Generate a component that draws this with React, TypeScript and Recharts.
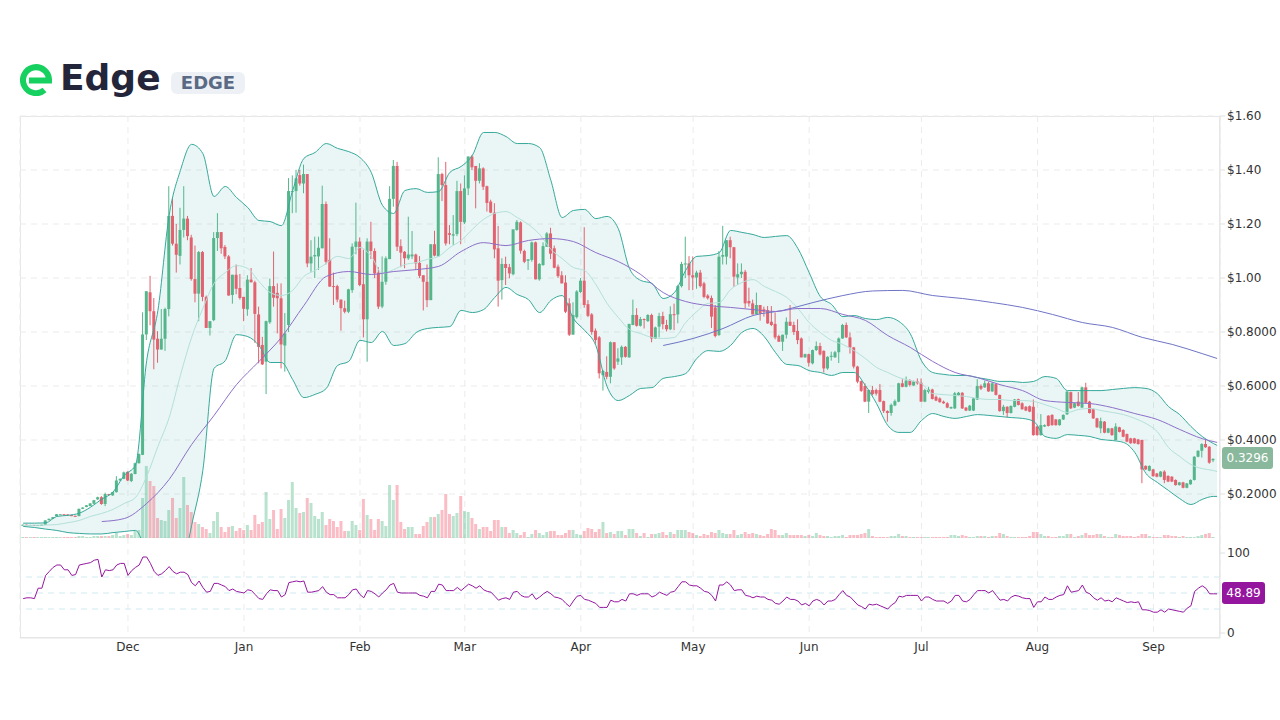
import {
  ComposedChart,
  Bar,
  Line,
  Area,
  XAxis,
  YAxis,
  CartesianGrid,
  ReferenceLine,
} from 'recharts';

// prices are in thousandths of a dollar, one entry per day (day 0 is early Nov)
const opens = [
  86, 86, 85, 85, 84, 85, 86, 103, 108, 118,
  125, 125, 124, 122, 119, 118, 145, 152, 155, 164,
  180, 188, 163, 200, 195, 207, 250, 256, 282, 248,
  274, 314, 345, 791, 947, 877, 775, 735, 775, 885,
  1230, 1127, 1082, 1178, 1220, 1150, 996, 942, 1096, 930,
  815, 844, 1148, 1170, 1115, 1080, 937, 1012, 963, 930,
  884, 994, 984, 865, 752, 690, 836, 970, 945, 925,
  750, 826, 1318, 1322, 1381, 1350, 1385, 1054, 1080, 1080,
  1110, 1274, 1067, 970, 970, 920, 888, 875, 955, 1115,
  1135, 977, 847, 1135, 1100, 1020, 894, 986, 1070, 1293,
  1415, 1118, 1097, 1073, 1080, 1087, 1056, 1010, 986, 918,
  1125, 1080, 1385, 1344, 1166, 1157, 1163, 1322, 1206, 1332,
  1450, 1415, 1360, 1406, 1340, 1283, 1242, 1110, 992, 1052,
  1040, 1014, 1178, 1206, 1100, 1064, 1067, 1132, 995, 1048,
  1116, 1165, 1110, 1042, 1010, 983, 906, 790, 855, 948,
  990, 903, 865, 805, 780, 640, 652, 634, 762, 690,
  706, 745, 706, 826, 863, 823, 848, 840, 863, 776,
  820, 859, 826, 810, 866, 865, 970, 1050, 1054, 1010,
  1002, 1020, 980, 935, 926, 891, 789, 1079, 1079, 1140,
  1114, 1002, 1014, 1023, 915, 906, 866, 900, 884, 881,
  838, 830, 785, 764, 790, 838, 826, 804, 776, 706,
  718, 684, 733, 748, 730, 665, 708, 706, 725, 776,
  826, 780, 743, 672, 618, 600, 542, 585, 585, 585,
  544, 507, 500, 528, 542, 610, 597, 620, 602, 617,
  612, 542, 578, 587, 560, 554, 542, 536, 517, 517,
  566, 575, 520, 509, 509, 550, 600, 595, 610, 580,
  607, 567, 507, 523, 500, 523, 551, 536, 523, 525,
  523, 450, 418, 450, 490, 493, 476, 455, 476, 495,
  577, 520, 542, 520, 595, 542, 514, 480, 443, 468,
  427, 443, 400, 447, 437, 422, 406, 406, 402, 400,
  304, 286, 291, 276, 264, 283, 267, 264, 252, 233,
  243, 223, 236, 252, 338, 360, 385, 375, 325,
];
const highs = [
  87, 87, 86, 86, 85, 86, 103, 109, 115, 126,
  126, 126, 125, 123, 120, 146, 151, 159, 166, 178,
  190, 192, 205, 200, 208, 266, 258, 283, 284, 277,
  316, 350, 873, 951, 1008, 926, 803, 885, 890, 1340,
  1295, 1200, 1260, 1340, 1230, 1160, 1120, 1100, 1100, 935,
  840, 1170, 1240, 1170, 1122, 1085, 1012, 1050, 1015, 930,
  1010, 1037, 990, 894, 782, 842, 998, 1098, 980, 980,
  870, 1370, 1380, 1400, 1400, 1420, 1385, 1140, 1153, 1153,
  1342, 1283, 1147, 1020, 975, 920, 916, 960, 1128, 1279,
  1150, 1105, 1147, 1208, 1110, 1040, 1080, 1080, 1340, 1437,
  1430, 1143, 1100, 1227, 1174, 1090, 1081, 1010, 1050, 1125,
  1175, 1447, 1390, 1430, 1196, 1233, 1360, 1350, 1380, 1450,
  1456, 1415, 1425, 1410, 1342, 1290, 1277, 1193, 1073, 1079,
  1052, 1180, 1215, 1210, 1105, 1070, 1135, 1135, 1055, 1132,
  1170, 1186, 1120, 1050, 1025, 1010, 925, 910, 955, 1000,
  1188, 918, 870, 813, 785, 660, 710, 765, 763, 740,
  750, 748, 830, 920, 888, 856, 850, 866, 868, 820,
  871, 875, 845, 895, 905, 975, 1060, 1153, 1081, 1080,
  1027, 1030, 986, 940, 935, 900, 1100, 1193, 1140, 1153,
  1115, 1054, 1054, 1030, 964, 920, 946, 900, 894, 896,
  896, 872, 790, 790, 854, 900, 838, 847, 780, 720,
  720, 735, 765, 760, 732, 710, 727, 730, 780, 830,
  835, 798, 745, 675, 620, 610, 587, 600, 590, 607,
  546, 510, 535, 550, 612, 625, 635, 625, 620, 628,
  628, 590, 597, 590, 565, 558, 546, 540, 524, 578,
  578, 577, 522, 530, 556, 625, 606, 620, 616, 614,
  609, 568, 530, 525, 528, 552, 553, 540, 526, 528,
  550, 452, 496, 458, 492, 495, 478, 478, 495, 582,
  579, 538, 578, 598, 612, 545, 516, 482, 483, 470,
  445, 445, 462, 449, 440, 424, 408, 408, 404, 401,
  306, 306, 293, 278, 285, 288, 269, 266, 254, 245,
  245, 241, 254, 340, 362, 388, 400, 377, 332,
];
const lows = [
  85, 85, 84, 83, 83, 85, 86, 102, 108, 118,
  124, 124, 120, 118, 117, 118, 144, 151, 155, 163,
  178, 160, 155, 196, 193, 205, 249, 255, 248, 244,
  273, 313, 344, 770, 825, 662, 686, 735, 730, 858,
  1120, 1020, 1050, 1150, 1140, 990, 910, 840, 914, 815,
  787, 840, 1100, 1090, 1070, 935, 905, 940, 920, 840,
  860, 984, 760, 684, 678, 570, 830, 894, 795, 665,
  653, 800, 1240, 1242, 1342, 1314, 1040, 1023, 1000, 1030,
  1110, 1050, 968, 900, 910, 805, 869, 870, 945, 1088,
  970, 780, 690, 1070, 1000, 885, 888, 975, 1070, 1264,
  1100, 1040, 1036, 1067, 1070, 1030, 1000, 880, 892, 918,
  1080, 1080, 1285, 1120, 1125, 1122, 1155, 1125, 1200, 1307,
  1400, 1258, 1350, 1326, 1246, 1240, 1073, 894, 920, 974,
  999, 1010, 1175, 1090, 1055, 1030, 1060, 995, 990, 1045,
  1115, 1070, 1036, 1000, 980, 870, 785, 790, 850, 945,
  890, 855, 790, 757, 628, 583, 625, 610, 660, 678,
  678, 705, 705, 825, 820, 820, 813, 838, 762, 774,
  780, 810, 802, 807, 807, 832, 965, 1000, 955, 955,
  960, 965, 925, 920, 815, 780, 785, 1050, 1050, 1073,
  968, 974, 1000, 888, 894, 865, 865, 842, 857, 830,
  822, 773, 764, 730, 776, 823, 789, 755, 706, 705,
  672, 680, 730, 713, 650, 660, 694, 705, 685, 775,
  778, 720, 665, 610, 578, 540, 500, 565, 565, 540,
  500, 468, 490, 525, 540, 595, 595, 598, 600, 605,
  542, 540, 572, 550, 544, 538, 534, 518, 515, 515,
  563, 515, 507, 507, 507, 548, 585, 593, 578, 578,
  565, 505, 493, 484, 498, 521, 528, 512, 507, 503,
  416, 416, 416, 448, 450, 453, 453, 453, 474, 493,
  515, 518, 524, 518, 536, 498, 478, 445, 425, 425,
  425, 416, 398, 428, 410, 392, 386, 386, 383, 240,
  289, 284, 264, 262, 262, 240, 244, 244, 231, 231,
  221, 221, 234, 250, 336, 335, 371, 312, 318,
];
const closes = [
  86, 85, 85, 84, 85, 86, 102, 108, 114, 125,
  125, 124, 121, 118, 118, 145, 150, 158, 165, 177,
  188, 163, 200, 197, 207, 250, 256, 280, 250, 275,
  314, 348, 791, 951, 877, 772, 735, 775, 885, 1230,
  1127, 1086, 1178, 1220, 1155, 996, 942, 1096, 930, 815,
  840, 1148, 1170, 1110, 1080, 935, 1012, 960, 926, 886,
  994, 984, 867, 745, 680, 840, 970, 927, 925, 754,
  795, 1322, 1322, 1369, 1350, 1385, 1054, 1079, 1085, 1112,
  1274, 1060, 968, 968, 920, 888, 875, 958, 1116, 1135,
  974, 847, 1135, 1100, 1017, 894, 986, 1073, 1293, 1415,
  1116, 1094, 1073, 1087, 1087, 1054, 1008, 986, 918, 1125,
  1083, 1385, 1344, 1128, 1160, 1162, 1322, 1208, 1332, 1450,
  1410, 1360, 1406, 1338, 1278, 1242, 1106, 990, 1052, 1037,
  1017, 1180, 1208, 1101, 1060, 1069, 1132, 995, 1052, 1118,
  1165, 1090, 1038, 1007, 980, 875, 790, 863, 950, 990,
  900, 860, 800, 770, 647, 656, 634, 762, 665, 702,
  745, 708, 830, 863, 823, 848, 845, 863, 776, 817,
  859, 829, 810, 866, 863, 970, 1052, 1054, 1010, 1002,
  1020, 970, 930, 925, 857, 785, 1079, 1085, 1140, 1114,
  1005, 1014, 1023, 906, 906, 865, 900, 868, 875, 832,
  826, 780, 764, 790, 838, 823, 800, 770, 706, 718,
  686, 733, 748, 717, 665, 708, 712, 725, 776, 826,
  780, 743, 672, 616, 582, 542, 585, 570, 572, 542,
  507, 500, 530, 544, 610, 597, 620, 604, 617, 610,
  542, 585, 587, 552, 546, 540, 536, 520, 522, 573,
  575, 517, 509, 527, 554, 600, 590, 610, 580, 610,
  567, 507, 523, 500, 526, 550, 530, 514, 509, 505,
  418, 418, 455, 455, 452, 455, 455, 476, 493, 579,
  517, 536, 526, 595, 538, 500, 480, 447, 470, 427,
  443, 418, 450, 430, 412, 394, 388, 388, 385, 291,
  291, 304, 266, 264, 283, 252, 246, 246, 233, 243,
  223, 239, 252, 338, 360, 385, 373, 316, 330,
];
// millions of tokens
const volumes = [
  1, 1, 1, 1, 1, 1, 1, 1, 1, 1,
  1, 1, 1, 1, 1, 2, 2, 1, 1, 2,
  2, 2, 2, 2, 3, 5, 2, 3, 4, 3,
  7, 8, 40, 72, 57, 52, 20, 18, 17, 28,
  40, 20, 30, 61, 33, 26, 16, 14, 11, 9,
  5, 17, 26, 11, 6, 11, 12, 7, 10, 8,
  13, 8, 23, 14, 16, 46, 19, 28, 9, 29,
  20, 38, 56, 30, 25, 26, 40, 35, 22, 19,
  26, 13, 19, 17, 11, 17, 7, 7, 17, 13,
  8, 39, 23, 19, 8, 19, 17, 12, 53, 38,
  53, 16, 9, 11, 11, 4, 4, 12, 16, 21,
  21, 24, 28, 44, 24, 22, 25, 42, 27, 26,
  20, 14, 9, 11, 11, 7, 18, 18, 11, 11,
  5, 8, 5, 3, 6, 1, 4, 8, 5, 3,
  6, 7, 7, 3, 3, 5, 8, 8, 4, 3,
  7, 10, 9, 6, 9, 16, 5, 6, 4, 7,
  7, 3, 9, 9, 5, 2, 5, 1, 4, 4,
  5, 6, 3, 6, 4, 8, 8, 8, 6, 5,
  3, 2, 4, 3, 6, 5, 8, 5, 4, 4,
  8, 3, 4, 6, 4, 5, 4, 3, 2, 4,
  9, 8, 3, 3, 5, 3, 3, 3, 3, 2,
  3, 2, 5, 3, 2, 2, 1, 2, 2, 3,
  1, 3, 3, 3, 4, 5, 9, 2, 1, 1,
  1, 1, 2, 2, 4, 2, 2, 1, 1, 1,
  1, 1, 1, 1, 1, 1, 1, 1, 3, 3,
  2, 3, 2, 1, 1, 2, 2, 2, 1, 2,
  2, 5, 4, 2, 1, 1, 1, 1, 1, 2,
  6, 6, 4, 2, 2, 1, 1, 2, 2, 4,
  4, 1, 2, 3, 5, 3, 3, 4, 4, 2,
  1, 1, 4, 3, 2, 2, 2, 1, 2, 4,
  4, 2, 1, 1, 1, 3, 3, 2, 2, 1,
  2, 1, 1, 1, 2, 3, 4, 5, 1,
];
const rsiValues = [
  43, 44, 44, 43, 56, 56, 72, 77, 82, 85,
  85, 79, 79, 72, 73, 85, 86, 87, 88, 91,
  92, 70, 79, 78, 79, 85, 87, 87, 72, 78,
  82, 85, 95, 95, 87, 77, 72, 74, 78, 83,
  77, 74, 76, 76, 73, 63, 59, 65, 57, 51,
  52, 62, 62, 60, 58, 53, 55, 52, 51, 50,
  54, 53, 48, 43, 42, 49, 54, 53, 53, 45,
  48, 63, 64, 65, 64, 65, 51, 51, 52, 53,
  58, 51, 48, 48, 44, 44, 44, 48, 54, 55,
  48, 44, 53, 52, 49, 45, 50, 54, 60, 62,
  51, 50, 50, 50, 50, 50, 47, 46, 44, 52,
  52, 61, 60, 53, 53, 53, 57, 53, 57, 61,
  59, 56, 59, 54, 52, 51, 46, 41, 43, 44,
  42, 51, 52, 47, 45, 45, 49, 42, 45, 49,
  52, 49, 45, 44, 42, 37, 33, 40, 46, 47,
  42, 41, 39, 37, 32, 32, 32, 41, 39, 39,
  42, 40, 49, 49, 47, 49, 49, 49, 45, 47,
  51, 49, 47, 51, 52, 58, 64, 64, 60, 59,
  59, 56, 52, 51, 47, 40, 60, 60, 64, 60,
  53, 54, 54, 47, 46, 44, 46, 45, 45, 42,
  41, 37, 36, 40, 45, 42, 42, 40, 35, 37,
  34, 40, 42, 40, 35, 40, 40, 42, 48, 53,
  47, 45, 40, 35, 33, 30, 36, 35, 36, 34,
  32, 30, 35, 38, 46, 45, 47, 47, 47, 47,
  40, 45, 45, 42, 40, 40, 40, 37, 40, 47,
  47, 40, 39, 42, 48, 53, 53, 53, 50, 53,
  47, 41, 42, 40, 45, 47, 46, 44, 43, 43,
  32, 39, 39, 45, 42, 42, 45, 47, 48, 59,
  51, 52, 53, 60, 51, 49, 44, 41, 44, 40,
  41, 39, 44, 42, 40, 38, 39, 38, 39, 29,
  29, 28, 26, 26, 29, 26, 30, 29, 28, 27,
  26, 31, 34, 52, 56, 59, 56, 49, 49, 48.89,
];

const bandDays = [
  0, 3, 6, 9, 12, 15, 18, 21, 24, 27, 30, 33, 36, 39, 42, 45, 48, 51, 54, 57,
  60, 63, 66, 69, 72, 75, 78, 81, 84, 87, 90, 93, 96, 99, 102, 105, 108, 111, 114, 117,
  120, 123, 126, 129, 132, 135, 138, 141, 144, 147, 150, 153, 156, 159, 162, 165, 168, 171, 174, 177,
  180, 183, 186, 189, 192, 195, 198, 201, 204, 207, 210, 213, 216, 219, 222, 225, 228, 231, 234, 237,
  240, 243, 246, 249, 252, 255, 258, 261, 264, 267, 270, 273, 276, 279, 282, 285, 288, 291, 294, 297,
  300, 303, 306, 309, 312, 315, 318, 319,
];
const bandUpper = [
  92, 92, 93, 117, 121, 129, 151, 181, 207, 269, 306, 694, 880, 1232, 1398, 1495, 1461, 1302, 1339, 1298,
  1261, 1213, 1209, 1194, 1324, 1443, 1465, 1498, 1480, 1468, 1446, 1391, 1269, 1239, 1324, 1331, 1317, 1320, 1391, 1413,
  1454, 1539, 1539, 1524, 1498, 1498, 1483, 1361, 1224, 1250, 1254, 1220, 1228, 1183, 1035, 991, 980, 924, 946, 1028,
  1080, 1083, 1094, 1176, 1169, 1161, 1150, 1154, 1157, 1109, 1020, 931, 902, 857, 861, 850, 846, 854, 839, 794,
  694, 650, 643, 639, 639, 631, 624, 617, 617, 613, 617, 635, 628, 583, 583, 583, 583, 587, 591, 594,
  591, 572, 524, 494, 450, 413, 387, 380,
];
const bandLower = [
  80, 76, 70, 65, 57, 54, 52, 52, 57, 61, 65, -30, -200, -300, -120, 83, 287, 665, 694, 790,
  783, 750, 687, 687, 624, 557, 569, 591, 676, 691, 769, 761, 802, 750, 757, 798, 813, 817, 820, 880,
  872, 883, 928, 965, 939, 920, 872, 917, 935, 850, 806, 750, 598, 546, 565, 591, 594, 628, 635, 646,
  702, 731, 728, 750, 798, 813, 783, 724, 680, 676, 657, 650, 639, 650, 650, 602, 535, 454, 428, 428,
  472, 498, 487, 480, 487, 494, 491, 487, 483, 480, 469, 413, 406, 420, 417, 413, 402, 398, 391, 354,
  276, 243, 213, 183, 161, 180, 191, 191,
];
const bandMid = [
  83, 84, 85, 87, 94, 102, 117, 128, 143, 165, 187, 265, 376, 483, 639, 780, 887, 980, 1020, 1046,
  1035, 987, 946, 935, 954, 1006, 1028, 1054, 1080, 1072, 1113, 1080, 1017, 1031, 1050, 1057, 1069, 1080, 1113, 1139,
  1180, 1217, 1239, 1246, 1224, 1198, 1161, 1106, 1072, 1039, 1028, 976, 906, 854, 809, 794, 780, 776, 780, 835,
  876, 906, 909, 957, 983, 994, 969, 950, 928, 887, 835, 798, 769, 754, 731, 702, 669, 650, 631, 620,
  609, 572, 568, 565, 561, 554, 550, 550, 546, 546, 543, 531, 517, 502, 513, 517, 509, 502, 494, 480,
  461, 431, 372, 339, 309, 294, 287, 283,
];
const shortMaDays = [
  21, 27, 33, 39, 45, 51, 57, 63, 69, 75, 81, 87, 93, 99, 105, 111, 117, 123, 129, 135,
  141, 147, 153, 159, 165, 171, 177, 183, 189, 195, 201, 207, 213, 219, 225, 231, 237, 243, 249, 255,
  261, 267, 273, 279, 285, 291, 297, 303, 309, 315, 319,
];
const shortMa = [
  98, 109, 165, 254, 383, 491, 605, 691, 780, 898, 1006, 1024, 1013, 1024, 1031, 1043, 1098, 1131, 1120, 1139,
  1146, 1135, 1094, 1061, 1013, 946, 913, 898, 891, 883, 876, 887, 887, 865, 843, 787, 743, 691, 650, 631,
  605, 583, 546, 539, 535, 520, 498, 476, 439, 405, 391,
];
const longMaDays = [171, 179, 187, 195, 203, 211, 219, 227, 235, 243, 251, 259, 267, 275, 283, 291, 299, 307, 315, 319];
const longMa = [750, 776, 813, 861, 880, 909, 935, 952, 954, 935, 924, 909, 891, 865, 835, 817, 780, 754, 720, 702];

const monthDays = [28, 59, 90, 118, 149, 179, 210, 240, 271, 302];
const monthLabels = ['Dec', 'Jan', 'Feb', 'Mar', 'Apr', 'May', 'Jun', 'Jul', 'Aug', 'Sep'];
const priceTicks = [0.2, 0.4, 0.6, 0.8, 1, 1.2, 1.4, 1.6];
const rsiTicks = [0, 100];
const rsiLevels = [30, 50, 70];

const lookup = (days: number[], values: number[], day: number) => {
  const k = days.indexOf(day);
  return k < 0 ? null : values[k] / 1000;
};

const rows = rsiValues.map((rsi, day) => {
  const hasCandle = day < closes.length;
  const hasBand = bandDays.includes(day);
  return {
    day,
    rsi,
    open: hasCandle ? opens[day] / 1000 : null,
    close: hasCandle ? closes[day] / 1000 : null,
    high: hasCandle ? highs[day] / 1000 : null,
    low: hasCandle ? lows[day] / 1000 : null,
    range: hasCandle ? [lows[day] / 1000, highs[day] / 1000] : null,
    volume: hasCandle ? volumes[day] : null,
    band: hasBand ? [lookup(bandDays, bandLower, day), lookup(bandDays, bandUpper, day)] : [null, null],
    upper: lookup(bandDays, bandUpper, day),
    lower: lookup(bandDays, bandLower, day),
    mid: lookup(bandDays, bandMid, day),
    maShort: lookup(shortMaDays, shortMa, day),
    maLong: lookup(longMaDays, longMa, day),
  };
});

const FONT = '"DejaVu Sans", sans-serif';
const GREEN = '#55b68c';
const RED = '#e2626f';
const GRID = '#ebebeb';
const TICK = { fill: '#333', fontSize: 12, fontFamily: FONT };

function Candle(props: any) {
  const { x, y, width, height, payload } = props;
  if (payload.open == null) return null;
  const up = payload.close >= payload.open;
  const perUnit = height / (payload.high - payload.low || 1);
  const top = y + (payload.high - Math.max(payload.open, payload.close)) * perUnit;
  const bodyHeight = Math.max(Math.abs(payload.close - payload.open) * perUnit, 1);
  const color = up ? GREEN : RED;
  return (
    <g>
      <line x1={x + width / 2} x2={x + width / 2} y1={y} y2={y + height} stroke={color} strokeWidth={1} />
      <rect x={x} y={top} width={width} height={bodyHeight} fill={color} />
    </g>
  );
}

function VolumeBar(props: any) {
  const { x, y, width, height, payload } = props;
  if (payload.open == null) return null;
  const up = payload.close >= payload.open;
  return (
    <rect
      x={x}
      y={y}
      width={width}
      height={height}
      fill={up ? 'rgba(72,178,130,0.38)' : 'rgba(244,90,110,0.4)'}
    />
  );
}

const priceLabel = (v: number) => (v >= 1 ? `$${v.toFixed(2)}` : `$${v.toFixed(4)}`);
const monthLabel = (d: number) => monthLabels[monthDays.indexOf(d)];

export default function App() {
  return (
    <div style={{ position: 'absolute', left: 0, top: 0, width: 1280, height: 720, background: '#fff', fontFamily: FONT }}>
      <svg style={{ position: 'absolute', left: 20, top: 64 }} width={32} height={32} viewBox="0 0 32 32">
        <path d="M9 16.5 H29 A13 13 0 1 0 24.5 26" fill="none" stroke="#16d15f" strokeWidth={6} />
      </svg>
      <div style={{ position: 'absolute', left: 60, top: 56, fontSize: 36, fontWeight: 700, lineHeight: '44px', color: '#23263a' }}>
        Edge
      </div>
      <div
        style={{
          position: 'absolute',
          left: 171,
          top: 72,
          width: 74,
          height: 22,
          borderRadius: 6,
          background: '#edf0f4',
          color: '#5a6a85',
          fontSize: 18,
          fontWeight: 700,
          lineHeight: '22px',
          textAlign: 'center',
        }}
      >
        EDGE
      </div>

      <div style={{ position: 'absolute', left: 20, top: 116, width: 1200, height: 522, boxSizing: 'border-box', border: '1px solid #e6e6e6' }} />

      <div style={{ position: 'absolute', left: 0, top: 100 }}>
        <ComposedChart width={1280} height={438} data={rows} margin={{ top: 16, right: 0, bottom: 0, left: 20 }}>
          <CartesianGrid stroke={GRID} strokeDasharray="6 5" />
          <XAxis dataKey="day" type="category" scale="band" hide ticks={monthDays} interval={0} padding={{ left: 1.3, right: 1 }} />
          <XAxis xAxisId="vol" dataKey="day" type="category" scale="band" hide padding={{ left: 1.3, right: 1 }} />
          <YAxis
            orientation="right"
            width={60}
            domain={[0.037, 1.6]}
            allowDataOverflow
            ticks={priceTicks}
            tickFormatter={priceLabel}
            tick={{ ...TICK, textAnchor: 'start' }}
            tickLine={{ stroke: '#e0e0e0' }}
            tickSize={5}
            tickMargin={2}
            axisLine={{ stroke: '#e6e6e6' }}
          />
          <YAxis yAxisId="vol" hide domain={[0, 422]} />
          <Bar xAxisId="vol" yAxisId="vol" dataKey="volume" barSize={3} shape={<VolumeBar />} isAnimationActive={false} />
          <Area
            type="monotone"
            dataKey="band"
            stroke="none"
            fill="#26a69a"
            fillOpacity={0.1}
            connectNulls
            dot={false}
            activeDot={false}
            isAnimationActive={false}
          />
          <Line type="monotone" dataKey="upper" stroke="#36a99b" strokeWidth={1} dot={false} activeDot={false} connectNulls isAnimationActive={false} />
          <Line type="monotone" dataKey="lower" stroke="#36a99b" strokeWidth={1} dot={false} activeDot={false} connectNulls isAnimationActive={false} />
          <Line type="monotone" dataKey="mid" stroke="#b4e0da" strokeWidth={1} dot={false} activeDot={false} connectNulls isAnimationActive={false} />
          <Line type="monotone" dataKey="maLong" stroke="#6f74c6" strokeWidth={1} dot={false} activeDot={false} connectNulls isAnimationActive={false} />
          <Line type="monotone" dataKey="maShort" stroke="#8d70c9" strokeWidth={1} dot={false} activeDot={false} connectNulls isAnimationActive={false} />
          <Bar dataKey="range" barSize={3} shape={<Candle />} isAnimationActive={false} />
        </ComposedChart>
      </div>

      <div style={{ position: 'absolute', left: 0, top: 538 }}>
        <ComposedChart width={1280} height={132} data={rows} margin={{ top: 0, right: 0, bottom: 0, left: 20 }}>
          <CartesianGrid stroke={GRID} strokeDasharray="6 5" horizontal={false} />
          <XAxis
            dataKey="day"
            type="category"
            scale="band"
            ticks={monthDays}
            interval={0}
            padding={{ left: 1.3, right: 1 }}
            tickFormatter={monthLabel}
            tick={TICK}
            tickLine={false}
            tickSize={4}
            tickMargin={0}
            axisLine={{ stroke: '#e6e6e6' }}
            height={32}
          />
          <YAxis
            orientation="right"
            width={60}
            domain={[-6.25, 118.75]}
            allowDataOverflow
            ticks={rsiTicks}
            tick={{ ...TICK, textAnchor: 'start' }}
            tickLine={{ stroke: '#e0e0e0' }}
            tickSize={5}
            tickMargin={2}
            axisLine={{ stroke: '#e6e6e6' }}
          />
          {rsiLevels.map((level) => (
            <ReferenceLine key={level} y={level} stroke="#cfe9f1" strokeDasharray="6 5" />
          ))}
          <Line dataKey="rsi" stroke="#94169f" strokeWidth={1} dot={false} activeDot={false} isAnimationActive={false} />
        </ComposedChart>
      </div>

      <div
        style={{
          position: 'absolute',
          left: 1222,
          top: 447,
          width: 51,
          height: 22,
          borderRadius: 3,
          background: '#8ab89c',
          color: '#fff',
          fontSize: 12,
          lineHeight: '22px',
          textAlign: 'center',
        }}
      >
        0.3296
      </div>
      <div
        style={{
          position: 'absolute',
          left: 1222,
          top: 582,
          width: 43,
          height: 22,
          borderRadius: 3,
          background: '#94169f',
          color: '#fff',
          fontSize: 12,
          lineHeight: '22px',
          textAlign: 'center',
        }}
      >
        48.89
      </div>
    </div>
  );
}
